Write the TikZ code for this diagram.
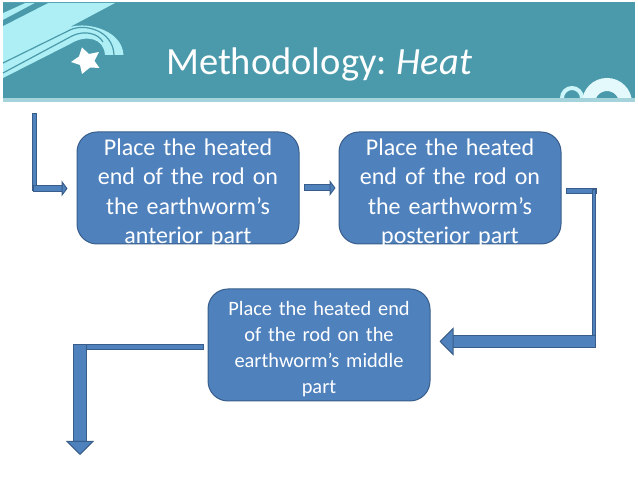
\documentclass[tikz,border=0pt]{standalone}
\usepackage{fontspec}
\setmainfont[WordSpace=0.8]{Carlito}
\usetikzlibrary{arrows.meta, positioning}

\definecolor{headerteal}{HTML}{4A9AAB}
\definecolor{headerstrip}{HTML}{A5D3DC}
\definecolor{ribbonpale}{HTML}{AEEFF5}
\definecolor{boxblue}{HTML}{4F81BD}
\definecolor{boxedge}{HTML}{385D8A}

\tikzset{
  stepbox/.style={draw=boxedge, fill=boxblue, line width=1pt, rounded corners=20pt, text=white,
    minimum width=222pt, minimum height=112pt, inner sep=0pt, text width=210pt, align=center},
  bigstep/.style={stepbox, font=\fontsize{24}{29.5}\selectfont, text height=23.5pt, text depth=88.5pt},
  smallstep/.style={stepbox, font=\fontsize{20.4}{26}\selectfont, text height=27pt, text depth=85pt},
  flow/.style={draw=boxedge, double=boxblue, line width=1pt, double distance=#1, line cap=rect},
  flowtip/.style={flow=#1, -{Triangle[width=28pt, length=14pt, fill=boxblue, color=boxedge, line width=1pt]}},
  flowsmall/.style={flow=5pt, -{Triangle[width=16pt, length=6pt, fill=boxblue, color=boxedge, line width=1pt]}}
}

\begin{document}
\begin{tikzpicture}[x=1pt, y=-1pt]
\useasboundingbox (0,0) rectangle (638,478);
% Header band
\fill[headerteal] (3,2) rectangle (635,98);
\fill[headerstrip] (3,98) rectangle (635,102);
% Ribbon at the left
\fill[ribbonpale] (3,3) -- (115,3) -- (68,28) .. controls (82,21) and (122,28) .. (123.5,55)
  -- (105,55) .. controls (104,38) and (86,34) .. (70,44) -- (3,78) -- cycle;
\draw[headerteal, line width=1.2pt] (3,63) -- (70,30) .. controls (84,23) and (113,30) .. (114,55);
\draw[headerteal, line width=1.2pt] (3,73) -- (72,36) .. controls (84,30) and (98,33) .. (103,42);
\fill[headerteal] (3,3) -- (25,3) -- (3,13) -- cycle;
\fill[headerteal] (3,20) -- (35,3) -- (48,3) -- (3,26) -- cycle;
% Star
\fill[white] (82,47.5) -- (89,54) -- (99,52) -- (94.5,61) -- (99.5,68) -- (90,67.5)
  -- (82,74) -- (80,65) -- (71,62) -- (79,56.5) -- cycle;
% Rings at the right
\begin{scope}
\clip (3,2) rectangle (635,98);
\draw[ribbonpale!60!white, line width=4pt] (572,98) circle [radius=10];
\draw[ribbonpale!35!white, line width=13pt] (607,103) circle [radius=18.5];
\end{scope}
% Title
\node[text=white, anchor=base west, inner sep=0pt, font=\fontsize{38.5}{42}\selectfont] (title) at (166,75)
  {Methodology: \textit{Heat}};
% Steps
\node[bigstep] (anterior) at (188,188) {Place the heated\\end of the rod on\\the earthworm’s\\anterior part};
\node[bigstep, right=39pt of anterior] (posterior) {Place the heated\\end of the rod on\\the earthworm’s\\posterior part};
\node[smallstep] (middle) at (319,345) {Place the heated end\\of the rod on the\\earthworm’s middle\\part};
% Coordinates of the bends
\coordinate (entry) at (34.5,115.5);
\coordinate (entrybend) at (36,188.5);
\coordinate (rightbend) at (594,191);
\coordinate (rightlow) at (589.5,341.5);
\coordinate (leftbend) at (80,347);
\coordinate (exittop) at (80,351);
\coordinate (exit) at (80,455);
% Connectors
\draw[flow=3pt] (entry) -- (entry |- entrybend);
\draw[flowsmall, shorten >=9pt] (entrybend) -- (anterior.west |- entrybend);
\draw[flowsmall, shorten <=7.5pt, shorten >=3pt] (anterior.east) -- (posterior.west);
\draw[flow=4pt, shorten <=7pt] (posterior.east |- rightbend) -- (rightbend);
\draw[flow=2pt] (rightbend) -- (rightbend |- rightlow);
\draw[flowtip=11pt, shorten >=9pt] (rightlow) -- (middle.east |- rightlow);
\draw[flow=4pt, shorten <=7pt] (middle.west |- leftbend) -- (leftbend);
\draw[flowtip=12pt] (exittop) -- (exit);
\end{tikzpicture}
\end{document}
